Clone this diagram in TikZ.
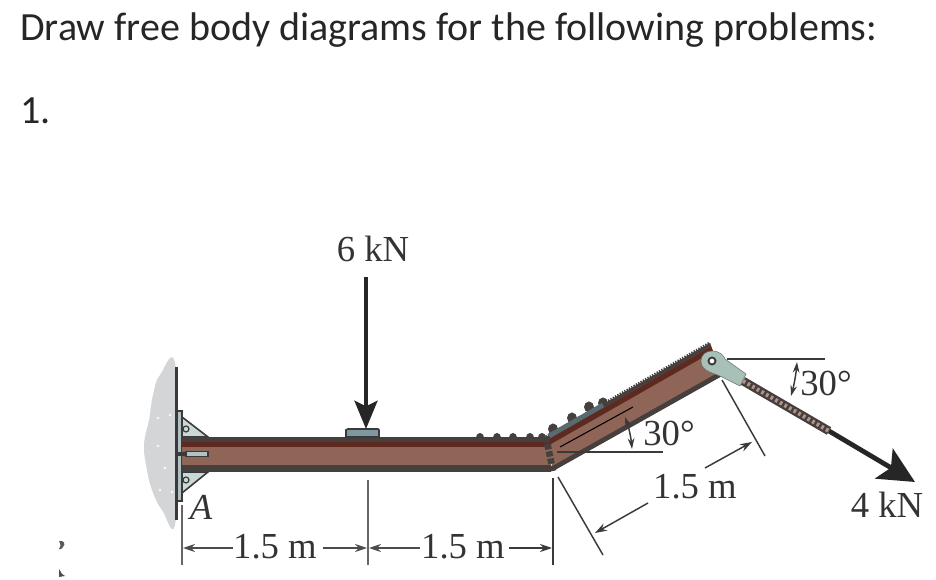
\documentclass[tikz,border=0pt]{standalone}
\usepackage{fontspec}
\setmainfont{Liberation Serif}
\newfontfamily\headfont{Carlito}
\usetikzlibrary{arrows.meta,calc}
\definecolor{beambrown}{HTML}{8F6558}
\definecolor{beammaroon}{HTML}{5E2A20}
\definecolor{beamdark}{HTML}{45403E}
\definecolor{inkgray}{HTML}{3A3A3A}
\definecolor{steelblue}{HTML}{7F98A0}
\definecolor{fitgreen}{HTML}{A9C0B8}
\definecolor{wallgray}{HTML}{D3D5D7}
\tikzset{
  head/.style={font=\headfont\fontsize{30pt}{34pt}\selectfont,anchor=base west,inner sep=0pt,text=black!85},
  lab/.style={font=\fontsize{27.5pt}{30pt}\selectfont,inner sep=0pt,text=black!80},
  dimline/.style={draw=inkgray,line width=1.1pt},
  dimarrow/.style={dimline,-{Stealth[length=9pt,width=6pt]}},
  loadarrow/.style={draw=black!85,line width=3.6pt,-{Stealth[length=21pt,width=17pt,inset=4pt]}},
  rivet/.style={fill=beamdark,draw=none}
}
\begin{document}
\begin{tikzpicture}[x=0.75pt,y=-0.75pt]
\useasboundingbox (0,0) rectangle (936,580);
\node[head] (title) at (20,41) {Draw free body diagrams for the following problems:};
\node[head] (num) at (20,124) {1.};
% stray marks at bottom left
\fill[black!65] (59,541) .. controls (64,540) and (66,544) .. (63,547) .. controls (62,549) and (60,550) .. (59,549) .. controls (61,547) and (61,545) .. (59,541) -- cycle;
\fill[black!70] (59,569) -- (62,574) -- (65,576) -- (59,577) -- cycle;
% wall
\fill[wallgray] plot[smooth cycle,tension=0.7] coordinates {(176,369)(160,375)(153,395)(149,420)(144,445)(147,470)(152,490)(162,510)(176,518)};
\foreach \p/\q in {158/418,170/415,158/446,165/468,172/492,160/490}
  \fill[white!90!wallgray] (\p,\q) circle (1.4);
\draw[draw=inkgray,line width=1.9pt] (176.5,367) -- (176.5,520);
% straight beam
\fill[fitgreen!60!white,draw=inkgray,line width=1.2pt] (182,417) -- (208,437) -- (182,437) -- cycle;
\fill[fitgreen!60!white,draw=inkgray,line width=1.2pt] (182,493) -- (208,472) -- (182,472) -- cycle;
\draw[inkgray,line width=0.9pt] (186,429) circle (3);
\draw[inkgray,line width=0.9pt] (186,480) circle (3);
\fill[steelblue!60!white,draw=inkgray,line width=1.2pt] (177,411) rectangle (182,501);
\fill[beambrown] (182,437) rectangle (551,472);
\fill[beamdark] (182,437) rectangle (551,442.5);
\fill[beammaroon] (182,442.5) rectangle (551,447.5);
\fill[beamdark] (182,465) rectangle (551,472);
\fill[steelblue!60!white,draw=inkgray,line width=0.8pt] (186,451.5) -- (208,451.5) -- (208,456.5) -- (186,456.5) -- cycle;
\fill[inkgray] (176,452) rectangle (186,456);
% rivets on straight beam
\foreach \p in {480,497,513,530,542}
  \fill[rivet] (\p,437.5) ellipse (4 and 4.5);
% rivets on inclined beam
\foreach \p/\q in {553/429,572/418,589/407,603/403}
  \fill[rivet] (\p,\q) ellipse (5 and 5.5);
% inclined beam
\coordinate (U0) at (546,437);
\coordinate (U1) at (710,343);
\coordinate (L0) at (553,471);
\coordinate (L1) at (722,376);
\fill[beambrown] (U0) -- (U1) -- (L1) -- (L0) -- cycle;
\fill[beammaroon] ($(U0)!0.10!(L0)$) -- ($(U1)!0.10!(L1)$) -- ($(U1)!0.26!(L1)$) -- ($(U0)!0.26!(L0)$) -- cycle;
\fill[beamdark] (U0) -- (U1) -- ($(U1)!0.10!(L1)$) -- ($(U0)!0.10!(L0)$) -- cycle;
\fill[beamdark] ($(U0)!0.86!(L0)$) -- ($(U1)!0.86!(L1)$) -- (L1) -- (L0) -- cycle;
\draw[beamdark,line width=2.5pt,dash pattern=on 1pt off 1pt] (U0) -- (U1);
\draw[steelblue!70!black,line width=3.5pt] (549,436) -- (603,405);
% weld
\draw[beamdark,line width=5pt,dash pattern=on 4pt off 1.5pt] (546,437) -- (553,471);
% load plate and load
\fill[steelblue,draw=inkgray,line width=1.2pt] (346,430) -- (348,429) -- (378,429) -- (379,430) -- (379,437) -- (346,437) -- cycle;
\node[lab] (load1) at (373,249) {6 kN};
\coordinate (P1) at (366,277);
\coordinate (P2) at (366,429);
\draw[loadarrow] (P1) -- (P2);
% rod and pin
\coordinate (PIN) at (712,361);
\coordinate (RA) at (743,381);
\coordinate (RB) at (829,431);
\coordinate (RC) at (915,482);
\draw[black!85,line width=3.6pt,-{Stealth[length=27pt,width=26pt,inset=6pt]}] (RB) -- (RC);
\draw[beamdark,line width=6.5pt] (RA) -- (RB);
\draw[beambrown!70!white,line width=3pt,dash pattern=on 2pt off 2pt] (RA) -- (RB);
\fill[fitgreen,draw=fitgreen!60!black,line width=0.4pt] (712,351) .. controls (720,351) and (724,356) .. (725,359) -- (746,374) -- (740,386) -- (722,377) .. controls (715,373) and (701,372) .. (701,361) .. controls (701,355) and (706,351) .. (712,351) -- cycle;
\fill[white,draw=inkgray,line width=1.4pt] (PIN) circle (3.5);
% angle at rod
\coordinate (H1) at (727,359);
\coordinate (H2) at (825,359);
\draw[dimline,line width=1.3pt] (H1) -- (H2);
\coordinate (Q1) at (797,362);
\coordinate (Q2) at (791,396);
\draw[dimline,{Stealth[length=8pt,width=5pt]}-{Stealth[length=8pt,width=5pt]}] (Q1) .. controls (796,374) and (794,385) .. (Q2);
\node[lab] (ang1) at (826,383) {30°};
% angle at beam
\coordinate (H3) at (557,452);
\coordinate (H4) at (663,452);
\draw[dimline,line width=1.3pt] (H3) -- (H4);
\coordinate (I1) at (560,447);
\coordinate (I2) at (633,407);
\draw[dimline,line width=0.8pt,black] (I1) -- (I2);
\coordinate (Q3) at (625,417);
\coordinate (Q4) at (632,449);
\draw[dimline,{Stealth[length=8pt,width=5pt]}-{Stealth[length=8pt,width=5pt]}] (Q3) .. controls (629,428) and (631,438) .. (Q4);
\node[lab] (ang2) at (669,433) {30°};
% inclined dimension
\coordinate (E1) at (558,477);
\coordinate (E2) at (603,555);
\coordinate (E3) at (722,380);
\coordinate (E4) at (765,456);
\draw[dimline] (E1) -- (E2);
\draw[dimline] (E3) -- (E4);
\node[lab] (len3) at (695,487) {1.5 m};
\coordinate (D1) at (648,503);
\coordinate (D2) at (595,533);
\coordinate (D3) at (705,468);
\coordinate (D4) at (752,442);
\draw[dimarrow] (D1) -- (D2);
\draw[dimarrow] (D3) -- (D4);
% horizontal dimensions
\coordinate (T1) at (182,505);
\coordinate (T2) at (182,565);
\coordinate (T3) at (368,480);
\coordinate (T4) at (368,565);
\coordinate (T5) at (553,478);
\coordinate (T6) at (553,565);
\draw[dimline,draw=gray!80!black,line width=1.4pt] (T1) -- (T2);
\draw[dimline,draw=gray!80!black,line width=1.6pt] (T3) -- (T4);
\draw[dimline,line width=1.6pt] (T5) -- (T6);
\node[lab] (len1) at (275,547) {1.5 m};
\node[lab] (len2) at (463,547) {1.5 m};
\coordinate (A1) at (233,548);
\coordinate (A2) at (183,548);
\coordinate (A3) at (323,548);
\coordinate (A4) at (367,548);
\coordinate (A5) at (420,548);
\coordinate (A6) at (369,548);
\coordinate (A7) at (509,548);
\coordinate (A8) at (552,548);
\draw[dimarrow,draw=gray!60!black] (A1) -- (A2);
\draw[dimarrow,draw=gray!60!black] (A3) -- (A4);
\draw[dimarrow,draw=gray!60!black] (A5) -- (A6);
\draw[dimarrow] (A7) -- (A8);
\node[lab,font=\itshape\fontsize{27.5pt}{30pt}\selectfont] (ptA) at (201,507) {A};
\node[lab] (load2) at (887,505) {4 kN};
\end{tikzpicture}
\end{document}
